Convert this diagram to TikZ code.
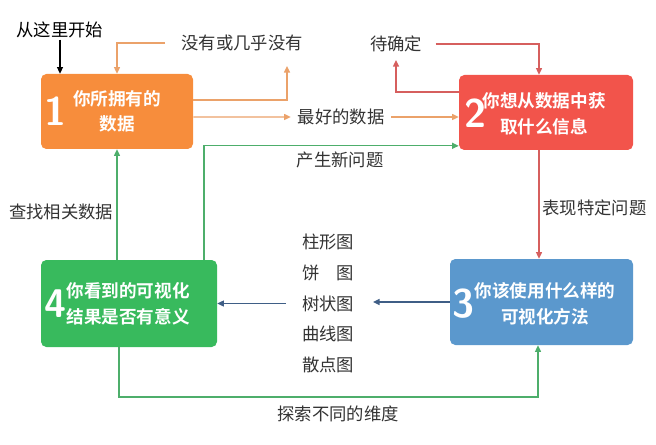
\documentclass[tikz,border=0pt]{standalone}
\usepackage{fontspec}
\setmainfont{Noto Sans CJK SC}
\newfontfamily\boldcjk{Noto Sans CJK SC Bold}
\usetikzlibrary{arrows.meta}
\definecolor{boxorange}{HTML}{F78D3C}
\definecolor{boxred}{HTML}{F2544B}
\definecolor{boxblue}{HTML}{5B98CD}
\definecolor{boxgreen}{HTML}{38BA5D}
\definecolor{lnorange}{HTML}{EBA26A}
\definecolor{lnred}{HTML}{D65F5E}
\definecolor{lngreen}{HTML}{4DAE6B}
\definecolor{lnblue}{HTML}{3F5E86}
\definecolor{txtgray}{HTML}{333333}

\tikzset{
  stepbox/.style={rounded corners=4pt, minimum width=#1, inner sep=0pt},
  numtext/.style={text=white, font=\sffamily\bfseries\fontsize{30}{30}\selectfont},
  boxtext/.style={text=white, align=center, font=\boldcjk\fontsize{13.2}{19.2}\selectfont},
  lbl/.style={text=txtgray, font=\fontsize{13}{15}\selectfont, inner sep=1pt},
  conn/.style={line width=1pt, -{Triangle[length=5pt,width=4.5pt]}}
}

\begin{document}
\begin{tikzpicture}[x=0.75pt, y=-0.75pt]

  \useasboundingbox (0,0) rectangle (656,445);

  % Boxes
  \node[stepbox=114pt, minimum height=56.25pt, fill=boxorange] (box1) at (117,111.5) {};
  \node[stepbox=130.5pt, minimum height=56.25pt, fill=boxred] (box2) at (546,112.5) {};
  \node[stepbox=137.25pt, minimum height=64.5pt, fill=boxblue] (box3) at (541.5,302) {};
  \node[stepbox=132pt, minimum height=65.25pt, fill=boxgreen] (box4) at (129,303.5) {};

  % Box contents
  \node[numtext] (num1) at (55,111) {1};
  \node[boxtext] (txt1) at (117,111.5) {你所拥有的\\数据};
  \node[numtext] (num2) at (475,113) {2};
  \node[boxtext] (txt2) at (544,114) {你想从数据中获\\取什么信息};
  \node[numtext] (num3) at (463,304) {3};
  \node[boxtext] (txt3) at (545,304) {你该使用什么样的\\可视化方法};
  \node[numtext] (num4) at (55,304) {4};
  \node[boxtext] (txt4) at (128,304) {你看到的可视化\\结果是否有意义};

  % Labels
  \node[lbl, text=black] (start) at (60,30) {从这里开始};
  \node[lbl] (none) at (242,43) {没有或几乎没有};
  \node[lbl] (best) at (341,117) {最好的数据};
  \node[lbl] (tbd) at (396,44) {待确定};
  \node[lbl] (newq) at (340,160) {产生新问题};
  \node[lbl] (find) at (61,212) {查找相关数据};
  \node[lbl, anchor=west] (spec) at (541,208) {表现特定问题};
  \node[lbl] (dims) at (338,414) {探索不同的维度};
  \node[lbl, align=center, font=\fontsize{13}{23}\selectfont] (charts) at (328,303.5)
    {柱形图\\饼\hspace{1em}图\\树状图\\曲线图\\散点图};

  % Helper coordinates
  \coordinate (upA) at (287,66);
  \coordinate (upB) at (396,60);
  \coordinate (low) at (538,397);

  % Orange connectors
  \draw[conn, color=lnorange] ([xshift=-11pt]none.west) -| (box1.north);
  \draw[conn, color=lnorange] ([yshift=8.6pt]box1.east) -| (upA);
  \draw[conn, color=lnorange] ([yshift=-4.1pt]box1.east) -- ([xshift=-4pt]best.west);
  \draw[conn, color=lnorange] ([xshift=4pt]best.east) -- (best.east -| box2.west);

  % Red connectors
  \draw[conn, color=lnred] ([xshift=9pt]tbd.east) -| ([xshift=-5.25pt]box2.north);
  \draw[conn, color=lnred] ([yshift=15.4pt]box2.west) -| (upB);
  \draw[conn, color=lnred] ([xshift=-5.25pt]box2.south) -- ([xshift=-5.25pt]box2.south |- box3.north);

  % Green connectors
  \draw[conn, color=lngreen] ([xshift=56.25pt]box4.north) |- ([yshift=-25pt]box2.west);
  \draw[conn, color=lngreen] (box1.south |- box4.north) -- (box1.south);
  \draw[conn, color=lngreen] ([xshift=-7.5pt]box4.south) |- (low) -- (low |- box3.south);

  % Blue connectors
  \draw[conn, color=lnblue] (box3.west) -- ([xshift=13pt]charts.east |- box3.west);
  \draw[conn, color=lnblue] ([xshift=-11pt]charts.west |- box4.east) -- (box4.east);

  % Start arrow
  \draw[conn, line width=0.8pt, color=black] (start.south) -- (start.south |- box1.north);

\end{tikzpicture}
\end{document}
